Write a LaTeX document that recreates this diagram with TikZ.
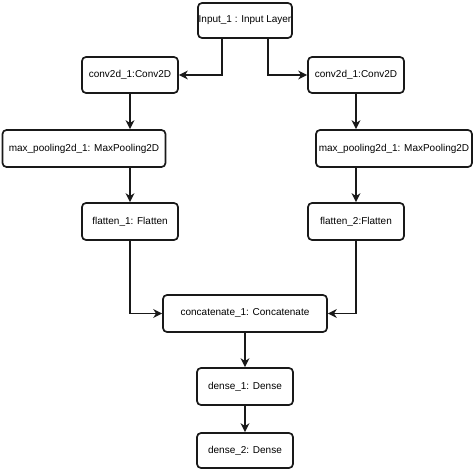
\documentclass[tikz,border=0pt]{standalone}
\usepackage{fontspec}
\setmainfont{Liberation Sans}
\usetikzlibrary{arrows.meta}
\begin{document}
\begin{tikzpicture}[x=1pt,y=-1pt,
  layer/.style={draw=black!90,line width=1.7pt,rounded corners=4pt,fill=white,
    inner sep=0pt,font=\fontsize{10}{12}\selectfont,text=black},
  arr/.style={draw=black!90,line width=1.7pt,-{Stealth[length=9pt,width=9pt]}}]
\useasboundingbox (0,0) rectangle (474,470);
\node[layer,minimum width=94pt,minimum height=35pt] (in) at (245,20.5) {Input\_1 : Input Layer};
\node[layer,minimum width=96pt,minimum height=36pt] (c1) at (130,75) {conv2d\_1:Conv2D};
\node[layer,minimum width=96pt,minimum height=36pt] (c2) at (356,75) {conv2d\_1:Conv2D};
\node[layer,minimum width=163pt,minimum height=37pt] (m1) at (84,148.5) {max\_pooling2d\_1: MaxPooling2D};
\node[layer,minimum width=156pt,minimum height=37pt] (m2) at (394,148.5) {max\_pooling2d\_1: MaxPooling2D};
\node[layer,minimum width=96pt,minimum height=37pt] (f1) at (130,221.5) {flatten\_1: Flatten};
\node[layer,minimum width=96pt,minimum height=37pt] (f2) at (356,221.5) {flatten\_2:Flatten};
\node[layer,minimum width=164pt,minimum height=37pt] (cat) at (245,313.5) {concatenate\_1: Concatenate};
\node[layer,minimum width=96pt,minimum height=37pt] (d1) at (245,386.5) {dense\_1: Dense};
\node[layer,minimum width=96pt,minimum height=35pt] (d2) at (245,450.5) {dense\_2: Dense};
\draw[arr] ([xshift=-23pt]in.south) |- (c1.east);
\draw[arr] ([xshift=23pt]in.south) |- (c2.west);
\draw[arr] (c1.south) -- (c1.south |- m1.north);
\draw[arr] (c2.south) -- (c2.south |- m2.north);
\draw[arr] (f1.north |- m1.south) -- (f1.north);
\draw[arr] (f2.north |- m2.south) -- (f2.north);
\draw[arr] (f1.south) |- (cat.west);
\draw[arr] (f2.south) |- (cat.east);
\draw[arr] (cat.south) -- (d1.north);
\draw[arr] (d1.south) -- (d2.north);
\end{tikzpicture}
\end{document}
